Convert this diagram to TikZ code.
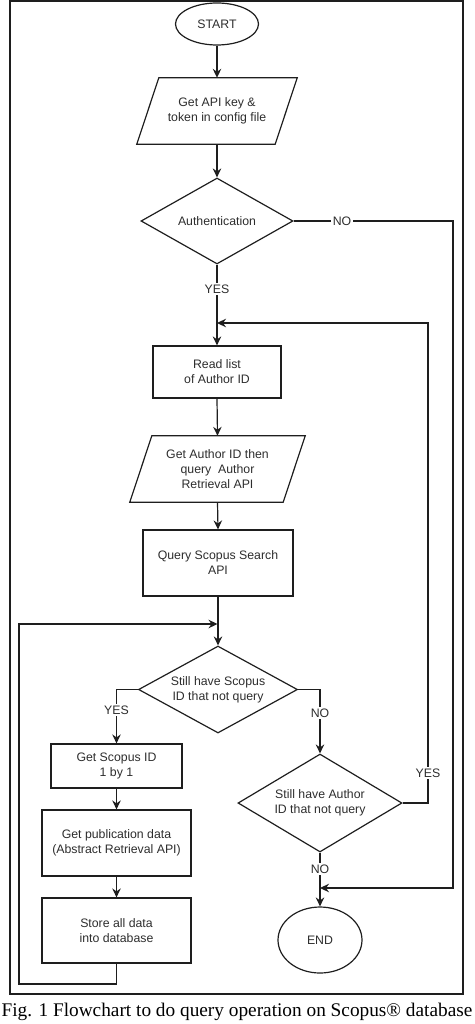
\documentclass[tikz,border=0pt]{standalone}
\usepackage{fontspec}
\setmainfont{Liberation Sans}
\newfontfamily\capfont{Liberation Serif}
\usetikzlibrary{shapes.geometric,arrows.meta}
\definecolor{ln}{RGB}{30,30,30}
\definecolor{tx}{RGB}{45,45,45}
\begin{document}
\begin{tikzpicture}[x=1pt,y=-1pt,
  txt/.style={text=tx, font=\fontsize{12.3}{15}\selectfont, align=center},
  base/.style={draw=ln, line width=1.2pt, txt},
  box/.style={base, rectangle, inner sep=0pt},
  term/.style={base, ellipse, inner sep=0pt},
  iobox/.style={txt, rectangle, inner sep=0pt},
  iopath/.style={draw=ln, line width=1.2pt, line join=miter},
  dec/.style={base, diamond, inner sep=0pt},
  lbl/.style={txt, fill=white, inner sep=2pt},
  wire/.style={draw=ln, line width=1.2pt},
  arr/.style={wire, -{Stealth[length=9pt,width=8.5pt,inset=3pt]}}]
\useasboundingbox (0,0) rectangle (474,1024);
% frame
\node[draw=ln, line width=1.2pt, minimum width=453pt, minimum height=993pt, inner sep=0pt] (frame) at (236.5,497.5) {};
% nodes
\node[term, minimum width=83pt, minimum height=42pt] (start) at (217,24) {START};
\node[iobox, minimum width=160pt, minimum height=66pt] (p1) at (217,111) {Get API key \&\\token in config file};
\draw[iopath] (p1.south west) -- ([xshift=22pt]p1.north west) -- (p1.north east) -- ([xshift=-22pt]p1.south east) -- cycle;
\node[dec, minimum width=152pt, minimum height=86pt, label={[txt]center:Authentication}] (auth) at (217,221) {};
\node[box, minimum width=128pt, minimum height=52pt] (read) at (217,372) {Read list\\of Author ID};
\node[iobox, minimum width=175pt, minimum height=66pt] (p2) at (217.5,469) {Get Author ID then\\query\ \ Author\\Retrieval API};
\draw[iopath] (p2.south west) -- ([xshift=22pt]p2.north west) -- (p2.north east) -- ([xshift=-22pt]p2.south east) -- cycle;
\node[box, minimum width=150pt, minimum height=66pt] (query) at (218,563) {Query Scopus Search\\API};
\node[dec, minimum width=159pt, minimum height=87pt, label={[txt]center:Still have Scopus\\ID that not query}] (d2) at (218,689.5) {};
\node[box, minimum width=131pt, minimum height=44pt] (gs) at (116.5,766) {Get Scopus ID\\1 by 1};
\node[box, minimum width=149pt, minimum height=66pt] (gp) at (116.5,843) {Get publication data\\(Abstract Retrieval API)};
\node[box, minimum width=149pt, minimum height=65pt] (store) at (116.5,930.5) {Store all data\\into database};
\node[dec, minimum width=164pt, minimum height=98pt, label={[txt]center:Still have Author\\ID that not query}] (d3) at (320,803) {};
\node[term, minimum width=84pt, minimum height=66pt] (end) at (320,940) {END};
% junction points
\coordinate (j1) at (217,323);
\coordinate (j2) at (217.5,624);
\coordinate (j3) at (320,888);
\coordinate (cA) at (453,221);
\coordinate (cB) at (428,803);
\coordinate (lb) at (19,984);
% connectors
\draw[arr] (start) -- (p1);
\draw[arr] (p1.south) -- (auth.north);
\draw[arr] (auth.south) -- (read.north);
\draw[arr] (read.south) -- (p2.north);
\draw[arr] (p2.south) -- (query.north);
\draw[arr] (query.south) -- (d2.north);
\draw[arr] (d2.west) -| (gs.north);
\draw[arr] (gs.south) -- (gp.north);
\draw[arr] (gp.south) -- (store.north);
\draw[arr] (store.south) |- (lb) |- (j2);
\draw[arr] (d2.east) -| (d3.north);
\draw[arr] (d3.east) -- (cB) |- (j1);
\draw[arr] (d3.south) -- (end.north);
\draw[arr] (auth.east) -- (cA) |- (j3);
% branch labels
\node[lbl] (yes1) at (217,289) {YES};
\node[lbl] (no1) at (342,221) {NO};
\node[lbl] (yes2) at (116.5,710) {YES};
\node[lbl] (no2) at (320,713) {NO};
\node[lbl] (yes3) at (428,773) {YES};
\node[lbl] (no3) at (320,869) {NO};
% caption
\node[font=\capfont\fontsize{19.3}{22}\selectfont, text=black, inner sep=0pt] (cap) at (237,1012) {Fig. 1 Flowchart to do query operation on Scopus® database};
\end{tikzpicture}
\end{document}
